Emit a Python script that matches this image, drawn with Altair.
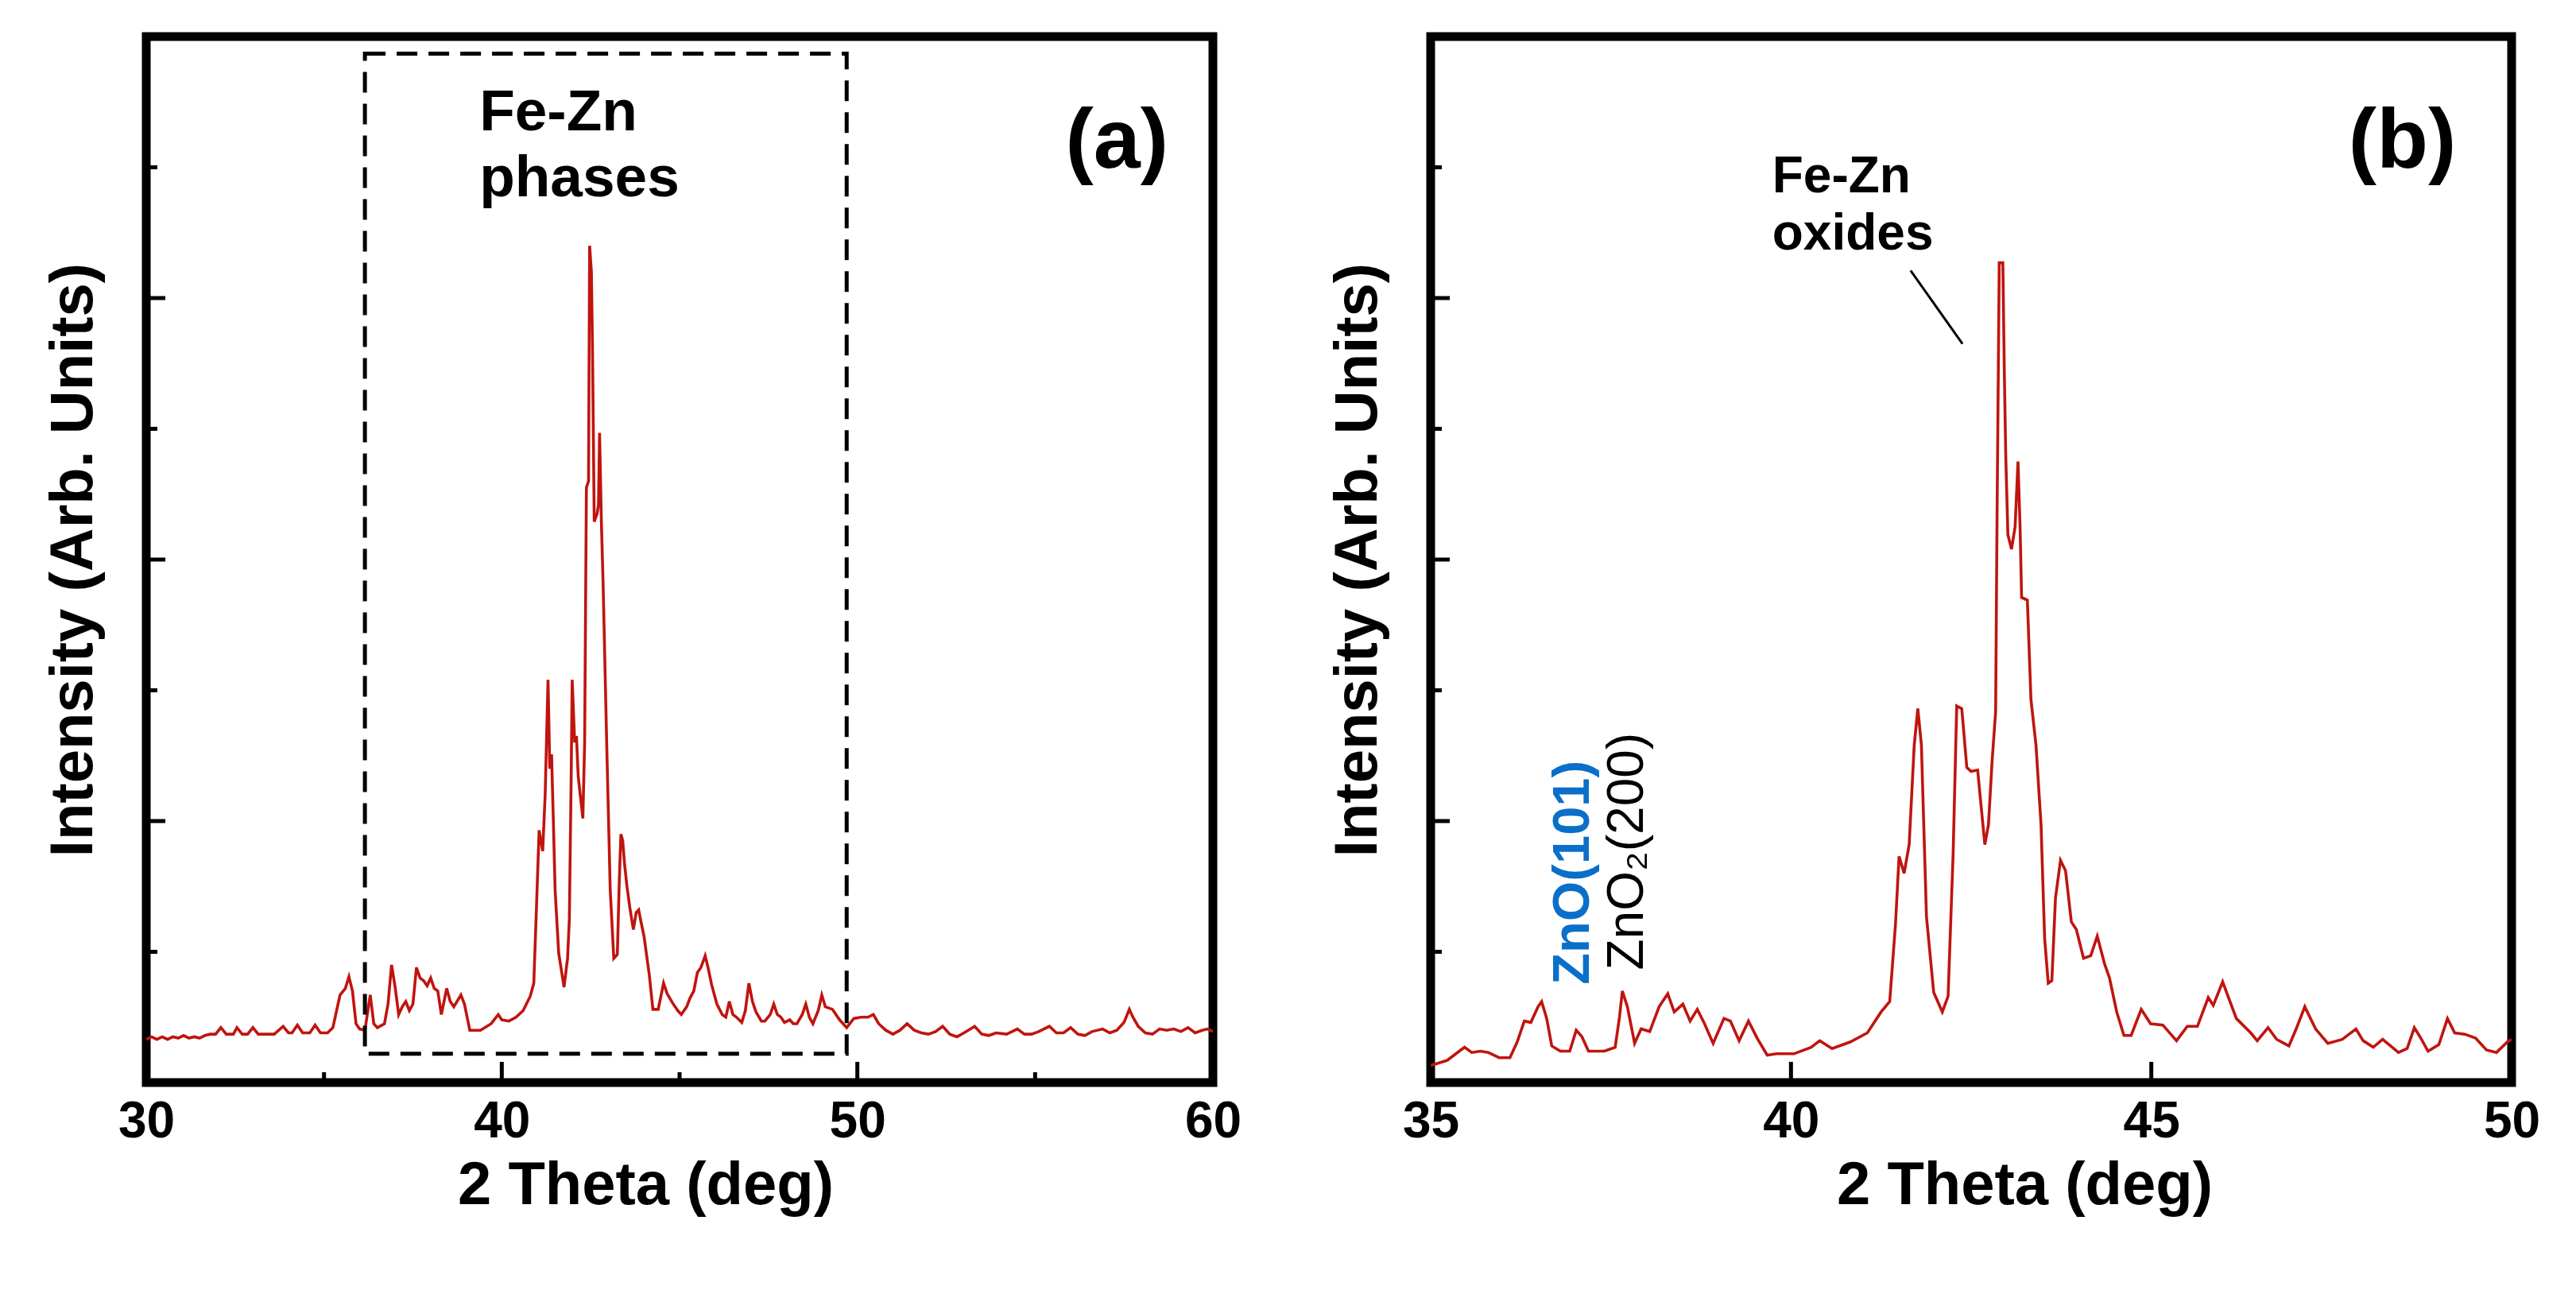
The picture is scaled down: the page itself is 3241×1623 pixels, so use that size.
import altair as alt
import pandas as pd

FONT = "Liberation Sans"
RED = "#C0140F"
BLUE = "#0A6FC8"

# ---------------- panel (a) spectrum ----------------
a_theta = [30.0, 30.15, 30.3, 30.45, 30.6, 30.75, 30.9, 31.05, 31.2, 31.35, 31.5, 31.65, 31.8, 31.95,
           32.1, 32.25, 32.45, 32.55, 32.7, 32.85, 33.0, 33.15, 33.4, 33.6, 33.85, 34.0, 34.1, 34.25,
           34.4, 34.6, 34.75, 34.9, 35.1, 35.25, 35.45, 35.6, 35.7, 35.8, 35.9, 36.0, 36.15, 36.3,
           36.4, 36.5, 36.7, 36.8, 36.9, 37.0, 37.1, 37.2, 37.3, 37.4, 37.5, 37.6, 37.7, 37.8, 37.9,
           38.0, 38.1, 38.2, 38.3, 38.45, 38.55, 38.65, 38.85, 38.95, 39.1, 39.4, 39.7, 39.9, 40.0,
           40.2, 40.4, 40.6, 40.8, 40.9, 40.97, 41.05, 41.15, 41.22, 41.3, 41.35, 41.4, 41.45, 41.5,
           41.6, 41.75, 41.85, 41.9, 41.95, 41.98, 42.05, 42.1, 42.15, 42.28, 42.33, 42.38, 42.44,
           42.47, 42.52, 42.55, 42.6, 42.68, 42.72, 42.75, 42.8, 42.85, 42.95, 43.05, 43.15, 43.25,
           43.3, 43.35, 43.4, 43.45, 43.52, 43.6, 43.7, 43.78, 43.85, 43.9, 44.0, 44.15, 44.25, 44.4,
           44.55, 44.65, 44.8, 44.95, 45.05, 45.2, 45.3, 45.4, 45.5, 45.6, 45.72, 45.8, 45.9, 46.05,
           46.2, 46.3, 46.4, 46.5, 46.6, 46.75, 46.85, 46.95, 47.05, 47.15, 47.3, 47.4, 47.55, 47.65,
           47.75, 47.85, 47.95, 48.1, 48.2, 48.3, 48.45, 48.55, 48.65, 48.75, 48.9, 49.0, 49.1, 49.3,
           49.5, 49.7, 49.9, 50.1, 50.3, 50.45, 50.6, 50.8, 51.0, 51.2, 51.4, 51.6, 51.8, 52.0, 52.2,
           52.4, 52.6, 52.8, 53.0, 53.3, 53.5, 53.7, 53.9, 54.2, 54.5, 54.7, 54.9, 55.1, 55.4, 55.6,
           55.8, 56.0, 56.2, 56.4, 56.6, 56.9, 57.1, 57.3, 57.5, 57.65, 57.75, 57.9, 58.1, 58.3, 58.5,
           58.7, 58.9, 59.1, 59.3, 59.5, 59.7, 59.85, 60.0]
a_int = [0.33, 0.35, 0.33, 0.35, 0.33, 0.35, 0.34, 0.36, 0.34, 0.35, 0.34, 0.36, 0.37, 0.37,
         0.42, 0.37, 0.37, 0.42, 0.37, 0.37, 0.42, 0.37, 0.37, 0.37, 0.43, 0.38, 0.38, 0.44,
         0.38, 0.38, 0.44, 0.38, 0.38, 0.42, 0.67, 0.72, 0.81, 0.70, 0.45, 0.41, 0.40, 0.67,
         0.45, 0.42, 0.45, 0.60, 0.90, 0.73, 0.52, 0.58, 0.62, 0.55, 0.60, 0.88, 0.80, 0.78, 0.74,
         0.80, 0.72, 0.70, 0.52, 0.72, 0.62, 0.58, 0.67, 0.60, 0.40, 0.40, 0.45, 0.52, 0.48,
         0.47, 0.50, 0.55, 0.66, 0.76, 1.30, 1.93, 1.77, 2.20, 3.08, 2.40, 2.51, 2.00, 1.47,
         0.99, 0.73, 0.95, 1.25, 2.30, 3.08, 2.60, 2.65, 2.34, 2.02, 2.60, 4.55, 4.60,
         6.40, 6.20, 5.64, 4.29, 4.35, 4.42, 4.97, 4.30, 3.81, 2.60, 1.47, 0.95, 0.98,
         1.50, 1.90, 1.85, 1.68, 1.50, 1.34, 1.17, 1.30, 1.32, 1.25, 1.12, 0.82, 0.56, 0.56,
         0.76, 0.68, 0.61, 0.55, 0.52, 0.58, 0.65, 0.70, 0.84, 0.88, 0.97, 0.88, 0.75, 0.60,
         0.52, 0.50, 0.62, 0.52, 0.50, 0.46, 0.55, 0.76, 0.62, 0.54, 0.47, 0.47, 0.52, 0.60,
         0.52, 0.50, 0.46, 0.48, 0.45, 0.45, 0.52, 0.60, 0.50, 0.45, 0.55, 0.67, 0.58, 0.56,
         0.48, 0.42, 0.49, 0.50, 0.50, 0.52, 0.45, 0.40, 0.37, 0.40, 0.45, 0.40, 0.38, 0.37, 0.39,
         0.43, 0.37, 0.35, 0.38, 0.43, 0.37, 0.36, 0.38, 0.37, 0.41, 0.37, 0.37, 0.39, 0.43, 0.38,
         0.38, 0.42, 0.37, 0.36, 0.39, 0.41, 0.38, 0.40, 0.46, 0.56, 0.50, 0.43, 0.38, 0.37, 0.41,
         0.40, 0.41, 0.39, 0.42, 0.38, 0.40, 0.41, 0.39]

# ---------------- panel (b) spectrum ----------------
b_theta = [35.0, 35.23, 35.35, 35.47, 35.57, 35.69, 35.8, 35.95, 36.1, 36.2, 36.3, 36.39, 36.49,
           36.54, 36.61, 36.68, 36.8, 36.93, 37.02, 37.1, 37.19, 37.41, 37.56, 37.62, 37.66, 37.73,
           37.83, 37.92, 38.04, 38.17, 38.29, 38.38, 38.5, 38.6, 38.7, 38.8, 38.92, 39.07, 39.16,
           39.28, 39.41, 39.53, 39.67, 39.8, 40.04, 40.28, 40.4, 40.57, 40.82, 41.06, 41.25, 41.37,
           41.45, 41.5, 41.57, 41.64, 41.71, 41.76, 41.81, 41.88, 41.98, 42.1, 42.18, 42.25, 42.3,
           42.37, 42.44, 42.5, 42.59, 42.69, 42.74, 42.79, 42.84, 42.86, 42.89, 42.94, 42.96, 42.98,
           43.01, 43.06, 43.11, 43.15, 43.18, 43.2, 43.28, 43.33, 43.4, 43.47, 43.52, 43.57, 43.62,
           43.67, 43.74, 43.81, 43.89, 43.96, 44.06, 44.16, 44.25, 44.35, 44.42, 44.52, 44.62, 44.72,
           44.86, 44.99, 45.16, 45.35, 45.5, 45.64, 45.79, 45.86, 45.99, 46.18, 46.38, 46.47, 46.62,
           46.74, 46.91, 47.01, 47.13, 47.28, 47.45, 47.65, 47.84, 47.94, 48.08, 48.21, 48.43, 48.55,
           48.65, 48.74, 48.84, 48.99, 49.11, 49.21, 49.35, 49.5, 49.65, 49.79, 49.94, 50.0]
b_int = [0.13, 0.17, 0.22, 0.27, 0.23, 0.24, 0.23, 0.19, 0.19, 0.31, 0.47, 0.46, 0.58,
         0.62, 0.49, 0.28, 0.24, 0.24, 0.40, 0.35, 0.24, 0.24, 0.27, 0.50, 0.70, 0.58,
         0.30, 0.41, 0.39, 0.58, 0.68, 0.54, 0.60, 0.47, 0.56, 0.45, 0.30, 0.49, 0.47,
         0.32, 0.47, 0.34, 0.21, 0.22, 0.22, 0.27, 0.32, 0.26, 0.31, 0.38, 0.54, 0.62,
         1.21, 1.73, 1.60, 1.82, 2.58, 2.86, 2.58, 1.27, 0.69, 0.54, 0.66, 1.75, 2.88,
         2.86, 2.41, 2.38, 2.39, 1.82, 1.97, 2.45, 2.84, 4.36, 6.27, 6.27, 5.45, 4.80,
         4.19, 4.08, 4.25, 4.75, 4.23, 3.71, 3.69, 2.93, 2.58, 1.97, 1.10, 0.76, 0.78,
         1.41, 1.70, 1.62, 1.23, 1.17, 0.95, 0.97, 1.12, 0.91, 0.80, 0.54, 0.36, 0.36,
         0.56, 0.45, 0.44, 0.32, 0.43, 0.43, 0.65, 0.59, 0.77, 0.49, 0.38, 0.32, 0.42,
         0.33, 0.28, 0.41, 0.58, 0.41, 0.30, 0.33, 0.41, 0.32, 0.27, 0.33, 0.23, 0.26,
         0.42, 0.34, 0.24, 0.29, 0.49, 0.38, 0.37, 0.34, 0.25, 0.23, 0.31, 0.33]

# ---------------- axes / ticks ----------------
a_xdomain = [30, 60]
b_xdomain = [35, 50]
ydomain = [0, 8]
a_xlabels = [30, 40, 50, 60]
b_xlabels = [35, 40, 45, 50]
a_xmajor = [40, 50]
a_xminor = [35, 45, 55]
b_xmajor = [40, 45]
y_major = [2, 4, 6]
y_minor = [1, 3, 5, 7]

# ---------------- annotations ----------------
a_box_x = [36.15, 49.7]
a_box_y = [0.22, 7.87]
a_text_x = [39.37, 39.37]
a_text_y = [7.28, 6.78]
a_text = ["Fe-Zn", "phases"]
a_tag = ["(a)", 58.75, 7.0]
b_text_x = [39.74, 39.74]
b_text_y = [6.81, 6.37]
b_text = ["Fe-Zn", "oxides"]
b_tag = ["(b)", 49.23, 7.0]
b_leader_x = [41.66, 42.38]
b_leader_y = [6.21, 5.65]
b_zno = ["ZnO(101)", 37.19, 0.75]
b_zno2 = ["ZnO\u2082(200)", 37.95, 0.86]

H = 1316
YTITLE = "Intensity (Arb. Units)"
XTITLE = "2 Theta (deg)"


def xenc(dom, labels, title_x):
    return alt.X("theta:Q", scale=alt.Scale(domain=dom, nice=False, zero=False),
                 axis=alt.Axis(values=labels, format="d", title=XTITLE, ticks=False, domain=False,
                               grid=False, labelFlush=False, labelOverlap=False, labelPadding=17,
                               titleX=title_x, titleY=152, titleAlign="center",
                               titleBaseline="alphabetic", titleAnchor="start"))


def yenc():
    return alt.Y("intensity:Q", scale=alt.Scale(domain=ydomain, nice=False, zero=False),
                 axis=alt.Axis(title=YTITLE, labels=False, ticks=False, domain=False, grid=False,
                               titleX=-92, titleY=H / 2, titleAngle=270, titleAlign="center",
                               titleBaseline="middle"))


def panel(theta, inten, xdom, xlabels, title_x, xmajor, xminor, width, texts, tag, extra):
    line = alt.Chart(pd.DataFrame({"theta": theta, "intensity": inten})).mark_line(
        color=RED, strokeWidth=3.6, clip=True).encode(x=xenc(xdom, xlabels, title_x), y=yenc())

    layers = [line]
    for vals, ln in ((y_major, 24), (y_minor, 14)):
        layers.append(alt.Chart(pd.DataFrame({"intensity": vals})).mark_rule(
            color="black", strokeWidth=5).encode(
            y=alt.Y("intensity:Q"), x=alt.value(0), x2=alt.value(ln)))
    for vals, ln in ((xmajor, 26), (xminor, 13)):
        if not vals:
            continue
        layers.append(alt.Chart(pd.DataFrame({"theta": vals})).mark_rule(
            color="black", strokeWidth=5).encode(
            x=alt.X("theta:Q"), y=alt.value(H), y2=alt.value(H - ln)))
    tx, ty, tt, fs = texts
    layers.append(alt.Chart(pd.DataFrame({"theta": tx, "intensity": ty, "label": tt})).mark_text(
        font=FONT, fontWeight="bold", fontSize=fs, color="black", align="left",
        baseline="alphabetic").encode(x="theta:Q", y="intensity:Q", text="label:N"))
    layers.append(alt.Chart(pd.DataFrame({"theta": [tag[1]], "intensity": [tag[2]], "label": [tag[0]]}))
                  .mark_text(font=FONT, fontWeight="bold", fontSize=106, color="black", align="right",
                             baseline="alphabetic").encode(x="theta:Q", y="intensity:Q", text="label:N"))
    layers.extend(extra)
    return alt.layer(*layers).properties(width=width, height=H)


box = alt.Chart(pd.DataFrame({"theta": [a_box_x[0]], "theta2": [a_box_x[1]],
                              "intensity": [a_box_y[0]], "intensity2": [a_box_y[1]]})).mark_rect(
    fillOpacity=0, stroke="black", strokeWidth=5, strokeDash=[26, 14]).encode(
    x="theta:Q", x2="theta2", y="intensity:Q", y2="intensity2")

leader = alt.Chart(pd.DataFrame({"theta": [b_leader_x[0]], "theta2": [b_leader_x[1]],
                                 "intensity": [b_leader_y[0]], "intensity2": [b_leader_y[1]]})).mark_rule(
    color="black", strokeWidth=3).encode(x="theta:Q", x2="theta2", y="intensity:Q", y2="intensity2")

zno = alt.Chart(pd.DataFrame({"theta": [b_zno[1]], "intensity": [b_zno[2]], "label": [b_zno[0]]})).mark_text(
    font=FONT, fontWeight="bold", fontSize=65, color=BLUE, angle=270, align="left",
    baseline="alphabetic").encode(x="theta:Q", y="intensity:Q", text="label:N")

zno2 = alt.Chart(pd.DataFrame({"theta": [b_zno2[1]], "intensity": [b_zno2[2]], "label": [b_zno2[0]]})).mark_text(
    font=FONT, fontWeight="normal", fontSize=64, color="black", angle=270, align="left",
    baseline="alphabetic").encode(x="theta:Q", y="intensity:Q", text="label:N")

pa = panel(a_theta, a_int, a_xdomain, a_xlabels, 628, a_xmajor, a_xminor, 1342,
           (a_text_x, a_text_y, a_text, 73), a_tag, [box])
pb = panel(b_theta, b_int, b_xdomain, b_xlabels, 747, b_xmajor, [], 1360,
           (b_text_x, b_text_y, b_text, 64), b_tag, [leader, zno, zno2])

chart = alt.hconcat(pa, pb, spacing=96).properties(
    padding={"left": 40, "top": 32, "right": 5, "bottom": 5}
).configure(
    background="white"
).configure_view(
    stroke="black", strokeWidth=11
).configure_axis(
    labelFont=FONT, labelFontSize=64, labelFontWeight="bold", labelColor="black",
    titleFont=FONT, titleFontSize=76, titleFontWeight="bold", titleColor="black"
)

chart.save("out.html", embed_options={"renderer": "svg", "actions": False})
